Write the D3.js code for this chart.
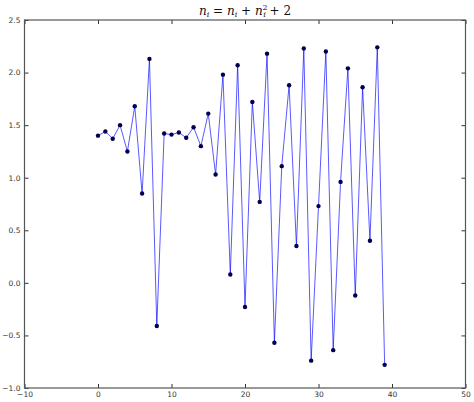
<!DOCTYPE html>
<html lang="en">
<head>
    <meta charset="UTF-8">
    <title>n_i sequence</title>
    <script src="https://d3js.org/d3.v7.min.js"></script>
    <style>
        body { margin: 0; background: #fff; }
        svg { display: block; }
        .tick text { font-family: "DejaVu Sans", sans-serif; font-size: 7.5px; fill: #333; }
    </style>
</head>
<body>
    <svg width="474" height="402"></svg>

    <script>
        // values
        const xValues = d3.range(0, 40);
        const yValues = [
            1.40, 1.44, 1.37, 1.50, 1.25, 1.68, 0.85, 2.13, -0.41, 1.42,
            1.41, 1.43, 1.38, 1.48, 1.30, 1.61, 1.03, 1.98, 0.08, 2.07,
            -0.23, 1.72, 0.77, 2.18, -0.57, 1.11, 1.88, 0.35, 2.23, -0.74,
            0.73, 2.20, -0.64, 0.96, 2.04, -0.12, 1.86, 0.40, 2.24, -0.78
        ];
        const xTicks = [-10, 0, 10, 20, 30, 40, 50];
        const yTicks = [-1.0, -0.5, 0.0, 0.5, 1.0, 1.5, 2.0, 2.5];

        const data = xValues.map((x, i) => ({ x: x, y: yValues[i] }));

        const margin = { top: 20, right: 8.5, bottom: 14, left: 24.5 },
              width = 474 - margin.left - margin.right,
              height = 402 - margin.top - margin.bottom;

        const svg = d3.select("svg");
        const g = svg.append("g")
                     .attr("transform", `translate(${margin.left},${margin.top})`);

        const x = d3.scaleLinear().domain([-10, 50]).range([0, width]);
        const y = d3.scaleLinear().domain([-1.0, 2.5]).range([height, 0]);

        const minus = s => s.replace("-", "\u2212");
        const fmtY = d => minus(d3.format(".1f")(d));
        const fmtX = d => minus(String(d));

        // axes with inward ticks on every side
        const styleAxis = sel => {
            sel.select(".domain").remove();
            sel.selectAll(".tick line").attr("stroke", "#333");
        };

        g.append("g")
         .attr("transform", `translate(0,${height})`)
         .call(d3.axisBottom(x).tickValues(xTicks).tickFormat(fmtX).tickSizeInner(-4).tickPadding(4))
         .call(styleAxis);

        g.append("g")
         .call(d3.axisTop(x).tickValues(xTicks).tickFormat("").tickSizeInner(-4))
         .call(styleAxis);

        g.append("g")
         .call(d3.axisLeft(y).tickValues(yTicks).tickFormat(fmtY).tickSizeInner(-4).tickPadding(4))
         .call(styleAxis);

        g.append("g")
         .attr("transform", `translate(${width},0)`)
         .call(d3.axisRight(y).tickValues(yTicks).tickFormat("").tickSizeInner(-4))
         .call(styleAxis);

        // frame
        g.append("rect")
         .attr("width", width)
         .attr("height", height)
         .attr("fill", "none")
         .attr("stroke", "#555")
         .attr("stroke-width", 1.2);

        // line + markers
        const line = d3.line().x(d => x(d.x)).y(d => y(d.y));

        g.append("path")
         .datum(data)
         .attr("d", line)
         .attr("fill", "none")
         .attr("stroke", "#0000ff")
         .attr("stroke-opacity", 0.65)
         .attr("stroke-width", 1);

        g.selectAll("circle")
         .data(data)
         .enter()
         .append("circle")
         .attr("cx", d => x(d.x))
         .attr("cy", d => y(d.y))
         .attr("r", 2.2)
         .attr("fill", "#00004d");

        // title
        const title = svg.append("text")
                         .attr("x", margin.left + width / 2)
                         .attr("y", 15)
                         .attr("text-anchor", "middle")
                         .style("font-family", "'DejaVu Serif', serif")
                         .style("font-size", "12px")
                         .attr("fill", "#111");
        title.append("tspan").style("font-style", "italic").text("n");
        title.append("tspan").attr("dy", 2).style("font-size", "8px").style("font-style", "italic").text("i");
        title.append("tspan").attr("dy", -2).text(" = ");
        title.append("tspan").style("font-style", "italic").text("n");
        title.append("tspan").attr("dy", 2).style("font-size", "8px").style("font-style", "italic").text("i");
        title.append("tspan").attr("dy", -2).text(" + ");
        title.append("tspan").style("font-style", "italic").text("n");
        title.append("tspan").attr("dy", -5).style("font-size", "8px").text("2");
        title.append("tspan").attr("dx", -4.5).attr("dy", 7).style("font-size", "8px").style("font-style", "italic").text("i");
        title.append("tspan").attr("dy", -2).text(" + 2");
    </script>
</body>
</html>
